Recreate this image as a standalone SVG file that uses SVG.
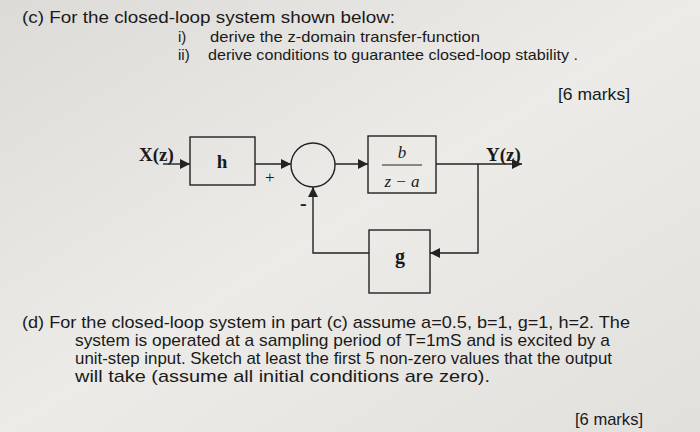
<svg xmlns="http://www.w3.org/2000/svg" width="700" height="432" viewBox="0 0 700 432">
<defs>
<marker id="ah" viewBox="0 0 10 10" refX="10" refY="5" markerWidth="10" markerHeight="10" orient="auto" markerUnits="userSpaceOnUse"><path d="M0,0 L10,5 L0,10 z" fill="#222"/></marker>
<linearGradient id="bg" x1="0" y1="0" x2="1" y2="1"><stop offset="0" stop-color="#dddbd8"/><stop offset="0.5" stop-color="#ecebe8"/><stop offset="1" stop-color="#e2e0dd"/></linearGradient>
</defs>
<style>
.t{font-family:"Liberation Sans",Arial,sans-serif;font-size:17px;fill:#1a1a1a}
.u{font-family:"Liberation Sans",Arial,sans-serif;font-size:15px;fill:#1a1a1a}
.s{font-family:"Liberation Serif","Times New Roman",serif;fill:#1a1a1a}
.b{fill:none;stroke:#222;stroke-width:1.4}
.c{fill:none;stroke:#222;stroke-width:1.4}
</style>
<rect width="700" height="432" fill="url(#bg)"/>
<g id="text">
<text class="t" x="22" y="23" textLength="373" lengthAdjust="spacingAndGlyphs">(c) For the closed-loop system shown below:</text>
<text class="u" x="178" y="42">i)</text>
<text class="u" x="210" y="42" textLength="270" lengthAdjust="spacingAndGlyphs">derive the z-domain transfer-function</text>
<text class="u" x="178" y="60">ii)</text>
<text class="u" x="208" y="60" textLength="370" lengthAdjust="spacingAndGlyphs">derive conditions to guarantee closed-loop stability .</text>
<text class="t" x="558" y="100" textLength="72" lengthAdjust="spacingAndGlyphs">[6 marks]</text>
<text class="t" x="22" y="328" textLength="608" lengthAdjust="spacingAndGlyphs">(d) For the closed-loop system in part (c) assume a=0.5, b=1, g=1, h=2. The</text>
<text class="t" x="75" y="346" textLength="535" lengthAdjust="spacingAndGlyphs">system is operated at a sampling period of T=1mS and is excited by a</text>
<text class="t" x="75" y="364" textLength="537" lengthAdjust="spacingAndGlyphs">unit-step input.  Sketch at least the first 5 non-zero values that the output</text>
<text class="t" x="75" y="382" textLength="415" lengthAdjust="spacingAndGlyphs">will take (assume all initial conditions are zero).</text>
<text class="t" x="575" y="425" textLength="68" lengthAdjust="spacingAndGlyphs">[6 marks]</text>
</g>
<g id="labels">
<text class="s" x="139" y="161" font-size="19" font-weight="bold">X(z)</text>
<text class="s" x="486" y="161" font-size="19" font-weight="bold">Y(z)</text>
<text class="s" x="265" y="183" font-size="17">+</text>
<text class="s" x="300" y="210" font-size="20" font-weight="bold">-</text>
</g>
<g id="h"><rect class="b" x="190" y="137" width="65" height="48"/><text class="s" x="222" y="168" font-size="19" font-weight="bold" text-anchor="middle">h</text></g>
<g id="sum"><circle class="b" cx="313" cy="165" r="22"/></g>
<g id="plant"><rect class="b" x="368" y="136" width="68" height="57"/><text class="s" x="402" y="158" font-size="17" font-style="italic" text-anchor="middle">b</text><line x1="382" y1="165" x2="422" y2="165" stroke="#222" stroke-width="1.2"/><text class="s" x="402" y="187" font-size="17" font-style="italic" text-anchor="middle">z − a</text></g>
<g id="g"><rect class="b" x="369" y="230" width="61" height="63"/><text class="s" x="400" y="263" font-size="20" font-weight="bold" text-anchor="middle">g</text></g>
<g id="connectors">
<line class="c" x1="163" y1="164" x2="190" y2="164" marker-end="url(#ah)"/>
<line class="c" x1="255" y1="164" x2="291" y2="164" marker-end="url(#ah)"/>
<line class="c" x1="335" y1="164" x2="368" y2="164" marker-end="url(#ah)"/>
<line class="c" x1="436" y1="164" x2="522" y2="164" marker-end="url(#ah)"/>
<polyline class="c" points="478,164 478,253 430,253" marker-end="url(#ah)"/>
<polyline class="c" points="369,253 313,253 313,187" marker-end="url(#ah)"/>
</g>
</svg>
